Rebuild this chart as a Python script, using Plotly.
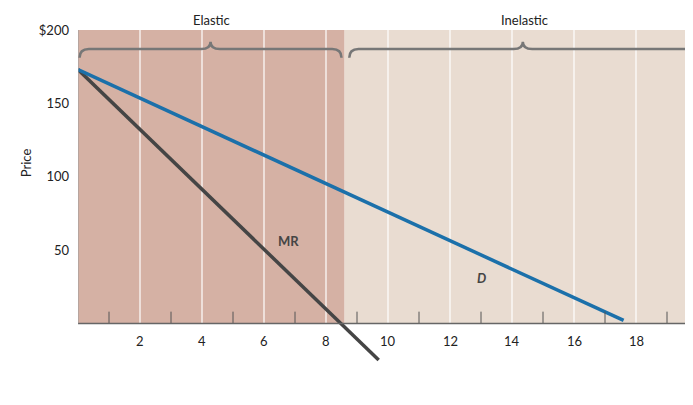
import plotly.graph_objects as go

# curves
demand_q = [0, 17.6]
demand_p = [173, 2]
mr_q = [0, 9.7]
mr_p = [173, -25]

x_ticks = [2, 4, 6, 8, 10, 12, 14, 16, 18]
y_ticks = [50, 100, 150, 200]
y_labels = ["50", "100", "150", "$200"]
minor_ticks = [1, 3, 5, 7, 9, 11, 13, 15, 17, 19]

elastic_end = 8.6
q_max = 20

font = "Lato"
txt = dict(size=13, family=font, color="#222")
fig = go.Figure()

fig.add_shape(type="rect", x0=0, x1=elastic_end, y0=0, y1=200, fillcolor="#d5b1a4", line_width=0, layer="below")
fig.add_shape(type="rect", x0=elastic_end, x1=q_max, y0=0, y1=200, fillcolor="#e9dcd1", line_width=0, layer="below")
for x in x_ticks:
    fig.add_shape(type="line", x0=x, x1=x, y0=0, y1=200, line=dict(color="white", width=1.2), layer="below")
for x in minor_ticks:
    fig.add_shape(type="line", x0=x, x1=x, y0=0, y1=8, line=dict(color="#555", width=1))
fig.add_shape(type="line", x0=0, x1=q_max, y0=0, y1=0, line=dict(color="#666", width=1.5))
fig.add_shape(type="line", x0=0, x1=0, y0=0, y1=200, line=dict(color="#999", width=1))


def brace(x0, x1):
    xm = (x0 + x1) / 2
    d = 0.3
    return (f"M {x0},181 Q {x0},187 {x0+d},187 L {xm-d},187 Q {xm},187 {xm},192 "
            f"Q {xm},187 {xm+d},187 L {x1-d},187 Q {x1},187 {x1},181")


for a, b in [(0.05, 8.5), (8.75, 19.95)]:
    fig.add_shape(type="path", path=brace(a, b), line=dict(color="#777", width=2.5))

fig.add_trace(go.Scatter(x=mr_q, y=mr_p, mode="lines", line=dict(color="#454545", width=3.5), showlegend=False))
fig.add_trace(go.Scatter(x=demand_q, y=demand_p, mode="lines", line=dict(color="#1b70aa", width=3.5), showlegend=False))

ann = [
    dict(x=4.3, y=200, text="Elastic", yanchor="bottom"),
    dict(x=14.4, y=200, text="Inelastic", yanchor="bottom"),
    dict(x=6.8, y=56, text="<b>MR</b>", font=dict(color="#454545", size=13, family=font)),
    dict(x=13.0, y=31, text="<b><i>D</i></b>", font=dict(color="#454545", size=13, family=font)),
    dict(x=-0.4, y=-10, text="0"),
    dict(x=19.8, y=-12, text="<i>Q</i>"),
    dict(x=7.6, y=-41, text="(a)"),
    dict(x=10.1, y=-55, text="Demand and marginal-revenue curves"),
]
for x in x_ticks:
    ann.append(dict(x=x, y=-12, text=str(x)))
for a in ann:
    a.setdefault("showarrow", False)
    a.setdefault("font", txt)
    fig.add_annotation(**a)

fig.add_annotation(x=-0.1, y=0.6, xref="paper", yref="paper", text="Price", textangle=-90,
                   showarrow=False, font=txt)

fig.update_layout(
    width=693, height=405,
    margin=dict(l=70, r=3, t=22, b=50, autoexpand=False),
    plot_bgcolor="white", paper_bgcolor="white",
    font=txt,
    xaxis=dict(range=[0, q_max], showgrid=False, zeroline=False, showticklabels=False, fixedrange=True),
    yaxis=dict(range=[-27, 200], tickvals=y_ticks, ticktext=y_labels, showgrid=False, zeroline=False,
               ticks="", ticklabelstandoff=8),
)

fig.write_html("out.html")
